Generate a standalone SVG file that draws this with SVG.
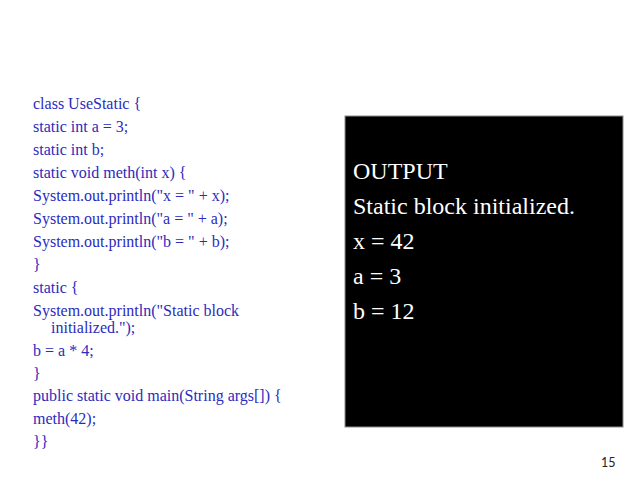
<svg xmlns="http://www.w3.org/2000/svg" width="638" height="478" viewBox="0 0 638 478">
<style>
.code{font-family:"Liberation Serif","Times New Roman",serif;font-size:16px;fill:#2B2BBE;}
.out{font-family:"Liberation Serif","Times New Roman",serif;font-size:24px;fill:#ffffff;}
.pg{font-family:Lato,"Liberation Sans",sans-serif;font-size:12.5px;fill:#222222;}
</style>
<rect x="0" y="0" width="638" height="478" fill="#ffffff"/>
<g id="code">
<text class="code" x="33" y="108.5">class UseStatic {</text>
<text class="code" x="33" y="131.5">static int a = 3;</text>
<text class="code" x="33" y="154.5">static int b;</text>
<text class="code" x="33" y="177.5">static void meth(int x) {</text>
<text class="code" x="33" y="200.5">System.out.println("x = " + x);</text>
<text class="code" x="33" y="223.5">System.out.println("a = " + a);</text>
<text class="code" x="33" y="246.5">System.out.println("b = " + b);</text>
<text class="code" x="33" y="269.5">}</text>
<text class="code" x="33" y="292.5">static {</text>
<text class="code" x="33" y="315.5">System.out.println("Static block</text>
<text class="code" x="51" y="332.5">initialized.");</text>
<text class="code" x="33" y="355.5">b = a * 4;</text>
<text class="code" x="33" y="378.5">}</text>
<text class="code" x="33" y="401">public static void main(String args[]) {</text>
<text class="code" x="33" y="424">meth(42);</text>
<text class="code" x="33" y="447">}}</text>
</g>
<g id="output">
<rect x="345" y="116" width="278" height="311" fill="#000000" stroke="#8c8c8c" stroke-width="1"/>
<text class="out" x="353" y="178.5">OUTPUT</text>
<text class="out" x="353" y="213.5">Static block initialized.</text>
<text class="out" x="353" y="248.5">x = 42</text>
<text class="out" x="353" y="283.5">a = 3</text>
<text class="out" x="353" y="318.5">b = 12</text>
</g>
<g id="page-number">
<text class="pg" x="615.5" y="466.5" text-anchor="end">15</text>
</g>
</svg>
